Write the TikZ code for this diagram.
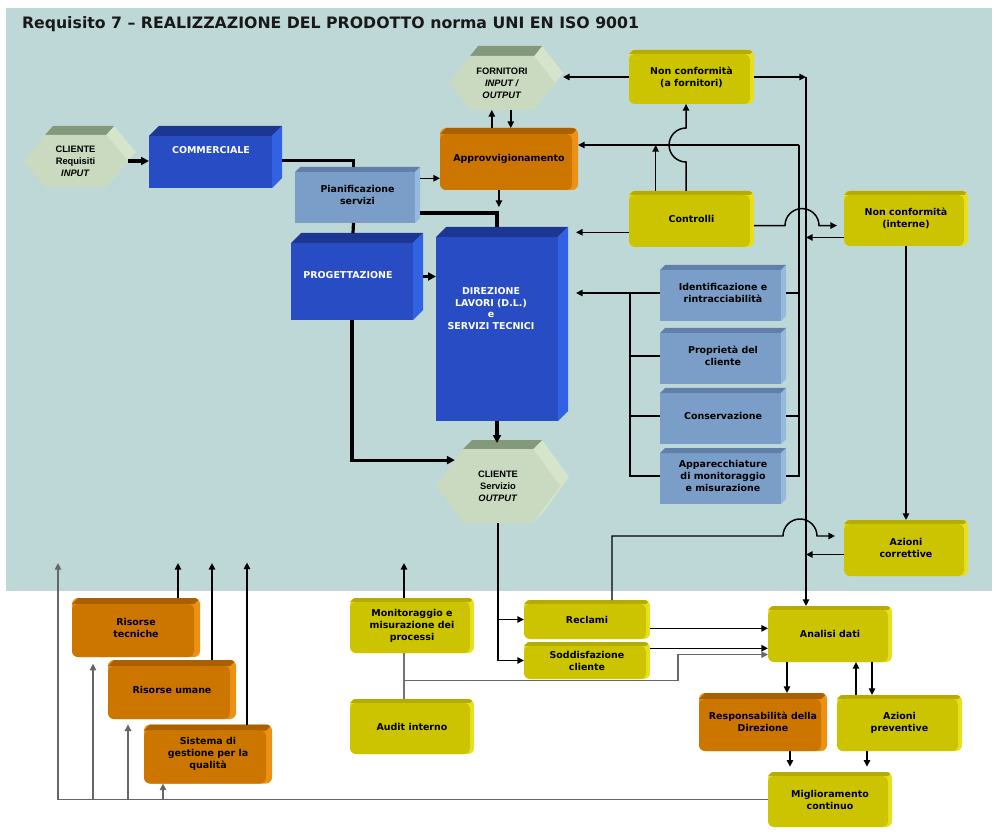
\documentclass[tikz,border=0pt]{standalone}
\usepackage{fontspec}
\setmainfont{DejaVu Sans}
\newfontfamily\hexfont{Liberation Sans}
\usetikzlibrary{arrows.meta, positioning, calc, backgrounds}
\definecolor{bgteal}{RGB}{190,216,216}
\definecolor{bluefront}{RGB}{40,76,196}
\definecolor{bluetop}{RGB}{28,55,145}
\definecolor{blueside}{RGB}{50,98,228}
\definecolor{lbfront}{RGB}{122,158,200}
\definecolor{lbtop}{RGB}{96,128,170}
\definecolor{lbside}{RGB}{150,185,222}
\definecolor{orfront}{RGB}{204,118,0}
\definecolor{ortop}{RGB}{170,95,0}
\definecolor{orside}{RGB}{236,145,20}
\definecolor{yefront}{RGB}{204,196,0}
\definecolor{yetop}{RGB}{180,172,0}
\definecolor{yeside}{RGB}{232,224,30}
\definecolor{hexfront}{RGB}{202,218,192}
\definecolor{hextop}{RGB}{132,152,124}
\definecolor{hexside}{RGB}{214,228,204}
\newcommand{\ppbb}{path picture bounding box}

\begin{document}
\begin{tikzpicture}[x=0.75pt, y=-0.75pt,
    every node/.style={outer sep=0pt, inner sep=0pt},
    sz/.style 2 args={minimum width=#1*0.75pt, minimum height=#2*0.75pt},
    txt/.style={font=\bfseries\fontsize{7.1}{9}\selectfont, align=center},
    wtxt/.style={txt, text=white, font=\bfseries\fontsize{7.1}{8.8}\selectfont},
    hexn/.style={font=\hexfont\bfseries\fontsize{7}{9}\selectfont, align=center},
    cube/.style n args={4}{path picture={
        \fill[#1] ([yshift=-#4]\ppbb.north west) rectangle ([xshift=-#4]\ppbb.south east);
        \fill[#2] ([yshift=-#4]\ppbb.north west) -- ([xshift=#4]\ppbb.north west) -- (\ppbb.north east) -- ([xshift=-#4,yshift=-#4]\ppbb.north east) -- cycle;
        \fill[#3] ([xshift=-#4,yshift=-#4]\ppbb.north east) -- (\ppbb.north east) -- ([yshift=#4]\ppbb.south east) -- ([xshift=-#4]\ppbb.south east) -- cycle;}},
    rbox/.style n args={4}{fill=#3, rounded corners=4.5pt, path picture={
        \fill[#2, sharp corners] ([yshift=-#4]\ppbb.north west) -- ([xshift=#4]\ppbb.north west) -- (\ppbb.north east) -- ([xshift=-#4,yshift=-#4]\ppbb.north east) -- cycle;
        \fill[#1, rounded corners=4pt] ([yshift=-#4]\ppbb.north west) rectangle ([xshift=-#4]\ppbb.south east);}},
    blu/.style={cube={bluefront}{bluetop}{blueside}{7.5pt}},
    lbl/.style={cube={lbfront}{lbtop}{lbside}{3.75pt}, txt},
    yel/.style={rbox={yefront}{yetop}{yeside}{3pt}, txt},
    org/.style={rbox={orfront}{ortop}{orside}{4.5pt}, txt},
    ln/.style={line width=1.1pt},
    arr/.style={ln, -{Triangle[length=5pt, width=4.8pt]}},
    tln/.style={line width=2.4pt},
    tarr/.style={tln, -{Triangle[length=6pt, width=6pt]}},
    gln/.style={ln, black!55},
    garr/.style={arr, black!60}]

  \useasboundingbox (0,0) rectangle (1000,834);

  \node[anchor=base west, font=\bfseries\fontsize{11.8}{14}\selectfont, text=black!90] (title) at (22,29)
    {Requisito 7 – REALIZZAZIONE DEL PRODOTTO norma UNI EN ISO 9001};

  % blocchi
  \node[hexn, sz={105}{52}] (cliin) at (75.5,161) {CLIENTE\\Requisiti\\\textit{INPUT}};
  \node[blu, sz={133}{62}] (comm) at (215.5,157) {};
  \node[wtxt] (commt) at (211,150) {COMMERCIALE};
  \node[lbl, sz={125}{56}] (pian) at (357.5,195) {Pianificazione\\servizi};
  \node[org, sz={138}{62}] (appr) at (509,159) {Approvvigionamento};
  \node[hexn, sz={106}{54}] (forn) at (502,83) {FORNITORI\\\textit{INPUT /}\\\textit{OUTPUT}};
  \node[yel, sz={125}{54}] (ncf) at (691.5,77) {Non conformità\\(a fornitori)};
  \node[yel, sz={125}{56}] (ctrl) at (691.5,219) {Controlli};
  \node[yel, sz={124}{55}] (nci) at (906,218.5) {Non conformità\\(interne)};
  \node[blu, sz={132}{87}] (prog) at (357,276.5) {};
  \node[wtxt] (progt) at (348,275) {PROGETTAZIONE};
  \node[blu, sz={132}{194}] (dir) at (502,324) {};
  \node[wtxt] (dirt) at (491,308.5) {DIREZIONE\\LAVORI (D.L.)\\e\\SERVIZI TECNICI};
  \node[lbl, sz={126}{56}] (ident) at (723,293) {Identificazione e\\rintracciabilità};
  \node[lbl, sz={126}{56}, below=5.25pt of ident] (prop) {Proprietà del\\cliente};
  \node[lbl, sz={126}{56}, below=3pt of prop] (cons) {Conservazione};
  \node[lbl, sz={126}{56}, below=3pt of cons] (appa) {Apparecchiature\\di monitoraggio\\e misurazione};
  \node[hexn, sz={124}{74}] (cliout) at (498,486) {CLIENTE\\Servizio\\\textit{OUTPUT}};
  \node[yel, sz={124}{56}] (azc) at (906,548) {Azioni\\correttive};
  \node[org, sz={128}{59}] (rtec) at (136,627.5) {Risorse\\tecniche};
  \node[org, sz={128}{59}] (rum) at (172,689.5) {Risorse umane};
  \node[org, sz={128}{59}] (sgq) at (208,754) {Sistema di\\gestione per la\\qualità};
  \node[yel, sz={124}{55}] (mon) at (412,625.5) {Monitoraggio e\\misurazione dei\\processi};
  \node[yel, sz={124}{55}] (aud) at (412,726.5) {Audit interno};
  \node[yel, sz={126}{39}] (recl) at (587,619.5) {Reclami};
  \node[yel, sz={126}{37}, below=2.25pt of recl] (sodd) {Soddisfazione\\cliente};
  \node[yel, sz={124}{56}] (anal) at (830,634) {Analisi dati};
  \node[org, sz={128}{58}] (resp) at (763,722) {Responsabilità della\\Direzione};
  \node[yel, sz={125}{56}] (azp) at (899.5,723) {Azioni\\preventive};
  \node[yel, sz={124}{55}] (migl) at (830,799.5) {Miglioramento\\continuo};

  % sfondo ed esagoni
  \begin{scope}[on background layer]
    \fill[bgteal] (6,8) rectangle (992,591);
    \foreach \h/\t/\dx/\dy in {cliin/22/8/9, forn/21/8/10, cliout/27/9/9}{
      \coordinate (\h-tl) at ($(\h.north west)+(\t,0)$);
      \coordinate (\h-tr) at ($(\h.north east)+(-\t,0)$);
      \coordinate (\h-bl) at ($(\h.south west)+(\t,0)$);
      \coordinate (\h-br) at ($(\h.south east)+(-\t,0)$);
      \fill[hexside] (\h-tr) -- ($(\h-tr)+(\dx,-\dy)$) -- ($(\h.east)+(\dx,-\dy)$) -- ($(\h-br)+(\dx,-\dy)$) -- (\h-br) -- (\h.east) -- cycle;
      \fill[hextop] (\h-tl) -- ($(\h-tl)+(\dx,-\dy)$) -- ($(\h-tr)+(\dx,-\dy)$) -- (\h-tr) -- cycle;
      \fill[hexfront] (\h.west) -- (\h-tl) -- (\h-tr) -- (\h.east) -- (\h-br) -- (\h-bl) -- cycle;
    }
  \end{scope}

  % flusso principale
  \draw[tarr] (cliin.east) -- (cliin.east -| comm.west);
  \draw[tln] (comm.-3) -| ([xshift=-3pt]pian.north);
  \draw[arr] (pian.15) -- (pian.15 -| appr.west);
  \draw[tln] (pian.-16) -| ([xshift=-3.75pt]dir.north);
  \draw[arr] (appr.-108) -- ++(0,17);
  \draw[arr] (appr.119) -- (appr.119 |- forn.south);
  \draw[arr] (forn.-72) -- (forn.-72 |- appr.north);
  \draw[tln] ([xshift=-3pt]pian.south) -- ([xshift=-3pt]prog.north);
  \draw[tarr] (prog.east) -- (prog.east -| dir.west);
  \draw[tarr] ([xshift=-3.75pt]prog.south) |- ($(cliout.west)!0.7!(cliout-tl)$);
  \draw[tarr] ([xshift=-3.75pt]dir.south) -- ++(0,22);

  % non conformita e controlli
  \coordinate (l1) at (806,77);
  \coordinate (l2) at (799,145);
  \coordinate (l3) at (630,0);
  \draw[arr] (ncf.west) -- ++(-66,0);
  \draw[arr] (ncf.east) -- (l1);
  \draw[arr] (l1) -- (l1 |- anal.north);
  \draw[arr] (ctrl.101) -- ++(0,-29) arc[start angle=90, end angle=270, radius=17] -- (ncf.south -| ctrl.101);
  \draw[arr] (ctrl.142) -- (ctrl.142 |- l2);
  \draw[arr] (l2) -- (l2 -| appr.east);
  \draw[ln] (l2) |- (appa.east);
  \draw[ln] (ident.east) -- (ident.east -| l2);
  \draw[ln] (cons.east) -- (cons.east -| l2);
  \draw[arr, shorten >=6pt] (ctrl.-168) -- (ctrl.-168 -| dir.east);
  \draw[arr] (ctrl.-6) -- ++(31,0) arc[start angle=180, end angle=360, radius=17] -- ++(18,0);
  \draw[arr] (nci.-163) -- (nci.-163 -| l1);
  \draw[arr] (nci.south) -- (azc.north);
  \draw[arr] (azc.-174) -- (azc.-174 -| l1);
  \draw[arr, shorten >=6pt] (ident.west) -- (ident.west -| dir.east);
  \draw[ln] (appa.west) -| (l3 |- ident.west);
  \draw[ln] (prop.west) -- (prop.west -| l3);
  \draw[ln] (cons.west) -- (cons.west -| l3);

  % uscita cliente e misure
  \draw[arr] (cliout.south) |- (sodd.west);
  \draw[arr] (cliout.south |- recl.west) -- (recl.west);
  \draw[arr] ([xshift=18.75pt]recl.north) |- ($(azc.west)+(-61,-12)$) arc[start angle=180, end angle=360, radius=17] -- ++(18,0);
  \draw[arr] (recl.-8) -- (recl.-8 -| anal.west);
  \draw[arr] (sodd.11) -- (sodd.11 -| anal.west);
  \draw[gln] ([xshift=-6pt]mon.south) -- ([xshift=-6pt]aud.north);
  \coordinate (mj) at ($(mon.south)!0.6!(aud.north)+(-8,0)$);
  \draw[garr] (mj) -| ++(274,-26) -- ++(90,0);
  \draw[arr] ([xshift=-6pt]mon.north) -- ++(0,-35);

  % risorse
  \draw[arr] ([xshift=31.5pt]rtec.north) -- ++(0,-35);
  \draw[arr] ([xshift=30pt]rum.north) -- ++(0,-97);
  \draw[arr] ([xshift=29.25pt]sgq.north) -- ++(0,-162);
  \coordinate (fb) at (58,563);
  \draw[garr] (migl.west) -| (fb);
  \draw[garr, shorten >=5pt] (93,0 |- migl.west) -- (93,0 |- rtec.south);
  \draw[garr, shorten >=4pt] (128,0 |- migl.west) -- (128,0 |- rum.south);
  \draw[garr] (163,0 |- migl.west) -- (163,0 |- sgq.south);

  % analisi e miglioramento
  \draw[arr] ([xshift=-32.25pt]anal.south) -- ++(0,31);
  \draw[arr] (856,0 |- azp.north) -- (856,0 |- anal.south);
  \draw[arr] (872,0 |- anal.south) -- (872,0 |- azp.north);
  \draw[arr, shorten >=4pt] (790,0 |- resp.south) -- (790,0 |- migl.north);
  \draw[arr, shorten >=4pt] (867,0 |- azp.south) -- (867,0 |- migl.north);
\end{tikzpicture}
\end{document}
